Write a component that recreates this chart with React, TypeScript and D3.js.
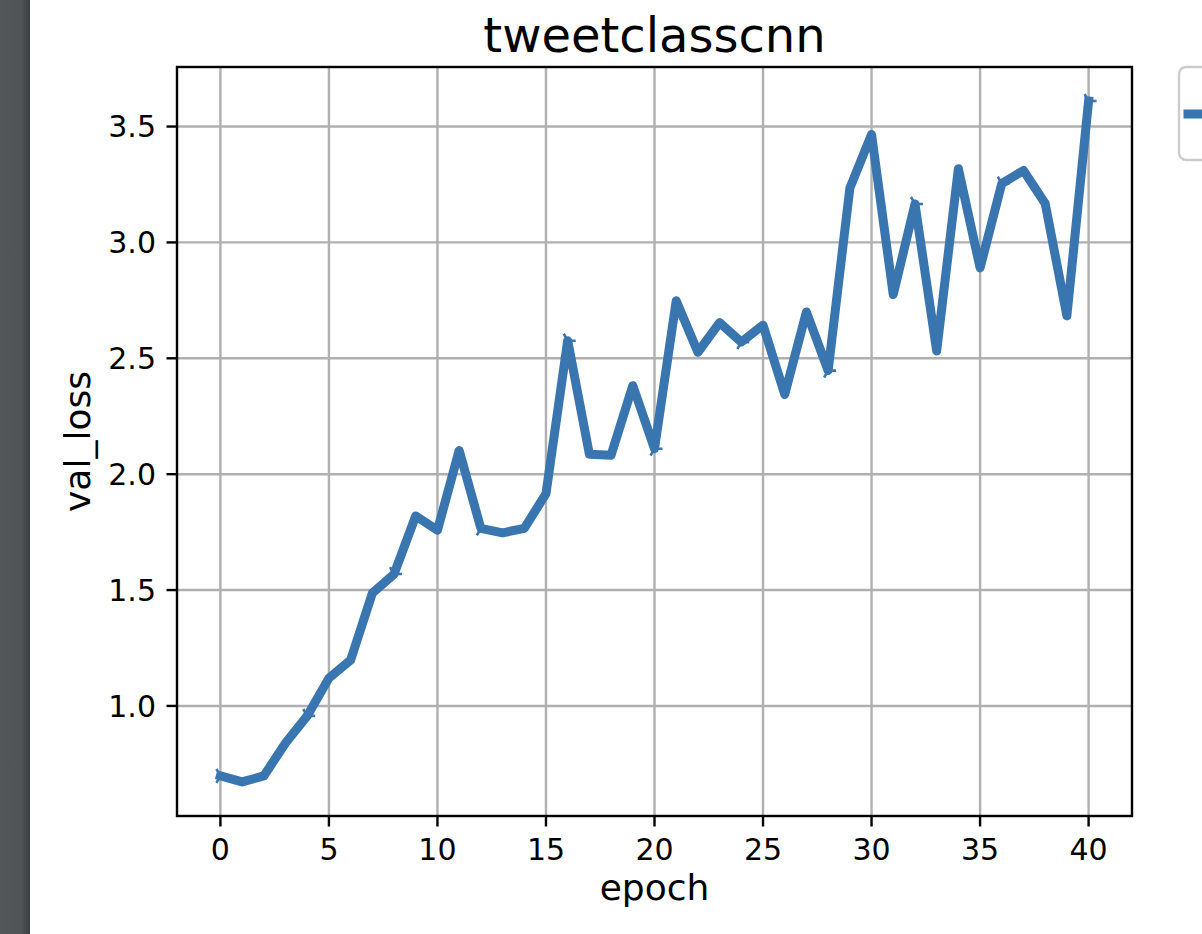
import React from "react";
import * as d3 from "d3";

const epochs: number[] = Array.from({ length: 41 }, (_, i) => i);
const valLoss: number[] = [
  0.698, 0.672, 0.698, 0.84, 0.957, 1.12, 1.198, 1.487, 1.569, 1.82,
  1.758, 2.102, 1.766, 1.747, 1.766, 1.916, 2.576, 2.086, 2.082, 2.382,
  2.11, 2.748, 2.526, 2.654, 2.57, 2.643, 2.344, 2.7, 2.447, 3.234,
  3.466, 2.775, 3.166, 2.532, 3.318, 2.89, 3.254, 3.31, 3.168, 2.683,
  3.61,
];
const xTicks: number[] = [0, 5, 10, 15, 20, 25, 30, 35, 40];
const yTicks: number[] = [1.0, 1.5, 2.0, 2.5, 3.0, 3.5];
const markEvery = 4;
const titleText = "tweetclasscnn";
const xLabel = "epoch";
const yLabel = "val_loss";

const W = 1202;
const H = 934;
const L = 177;
const R = 1132;
const T = 67;
const B = 816;
const BLUE = "#3976af";
const FONT = "DejaVu Sans, sans-serif";

export default function App() {
  const x = d3.scaleLinear().domain([-2, 42]).range([L, R]);
  const yMin = d3.min(valLoss)!;
  const yMax = d3.max(valLoss)!;
  const pad = (yMax - yMin) * 0.05;
  const y = d3.scaleLinear().domain([yMin - pad, yMax + pad]).range([B, T]);

  const line = d3
    .line<number>()
    .x((_, i) => x(epochs[i]))
    .y((d) => y(d));

  const tri = (cx: number, cy: number) => {
    const s = 8;
    return `M${cx},${cy}L${cx + s},${cy}M${cx},${cy}L${cx - s * 0.5},${cy - s * 0.866}M${cx},${cy}L${cx - s * 0.5},${cy + s * 0.866}`;
  };

  return (
    <svg
      width={W}
      height={H}
      style={{ position: "absolute", left: 0, top: 0, background: "#ffffff" }}
      fontFamily={FONT}
    >
      <defs>
        <linearGradient id="strip" x1="0" x2="1" y1="0" y2="0">
          <stop offset="0" stopColor="#53575a" />
          <stop offset="0.7" stopColor="#505457" />
          <stop offset="1" stopColor="#3c3f42" />
        </linearGradient>
        <clipPath id="plotclip">
          <rect x={L} y={T} width={R - L} height={B - T} />
        </clipPath>
      </defs>
      <rect x={0} y={0} width={W} height={H} fill="#ffffff" />
      <rect x={0} y={0} width={30} height={H} fill="url(#strip)" />

      {/* grid */}
      {xTicks.map((t) => (
        <line key={"gx" + t} x1={x(t)} x2={x(t)} y1={T} y2={B} stroke="#b0b0b0" strokeWidth={2.4} />
      ))}
      {yTicks.map((t) => (
        <line key={"gy" + t} x1={L} x2={R} y1={y(t)} y2={y(t)} stroke="#b0b0b0" strokeWidth={2.4} />
      ))}

      {/* data line */}
      <g clipPath="url(#plotclip)">
        <path
          d={line(valLoss) || ""}
          fill="none"
          stroke={BLUE}
          strokeWidth={9}
          strokeLinejoin="round"
          strokeLinecap="square"
        />
        {valLoss.map((v, i) =>
          i % markEvery === 0 ? (
            <path key={"m" + i} d={tri(x(epochs[i]), y(v))} stroke={BLUE} strokeWidth={2.6} fill="none" />
          ) : null
        )}
      </g>

      {/* spines */}
      <rect x={L} y={T} width={R - L} height={B - T} fill="none" stroke="#000" strokeWidth={2.4} />

      {/* x ticks */}
      {xTicks.map((t) => (
        <g key={"xt" + t}>
          <line x1={x(t)} x2={x(t)} y1={B} y2={B + 10.5} stroke="#000" strokeWidth={2.4} />
          <text x={x(t)} y={B + 44} textAnchor="middle" fontSize={30} fill="#000">
            {t}
          </text>
        </g>
      ))}
      {/* y ticks */}
      {yTicks.map((t) => (
        <g key={"yt" + t}>
          <line x1={L - 10.5} x2={L} y1={y(t)} y2={y(t)} stroke="#000" strokeWidth={2.4} />
          <text x={L - 21} y={y(t)} dy="0.36em" textAnchor="end" fontSize={30} fill="#000">
            {t.toFixed(1)}
          </text>
        </g>
      ))}

      {/* labels */}
      <text x={(L + R) / 2} y={900} textAnchor="middle" fontSize={36} fill="#000">
        {xLabel}
      </text>
      <text
        transform={`translate(90,${(T + B) / 2}) rotate(-90)`}
        textAnchor="middle"
        fontSize={36}
        fill="#000"
      >
        {yLabel}
      </text>
      <text x={(L + R) / 2} y={52} textAnchor="middle" fontSize={48} fill="#000">
        {titleText}
      </text>

      {/* legend (cut off at right edge of the window, as in the reference) */}
      <g>
        <rect x={1179} y={67} width={200} height={93} rx={7} ry={7} fill="#ffffff" fillOpacity={0.8} stroke="#cccccc" strokeWidth={2.4} />
        <line x1={1188} x2={1248} y1={114} y2={114} stroke={BLUE} strokeWidth={9} strokeLinecap="square" />
      </g>
    </svg>
  );
}
